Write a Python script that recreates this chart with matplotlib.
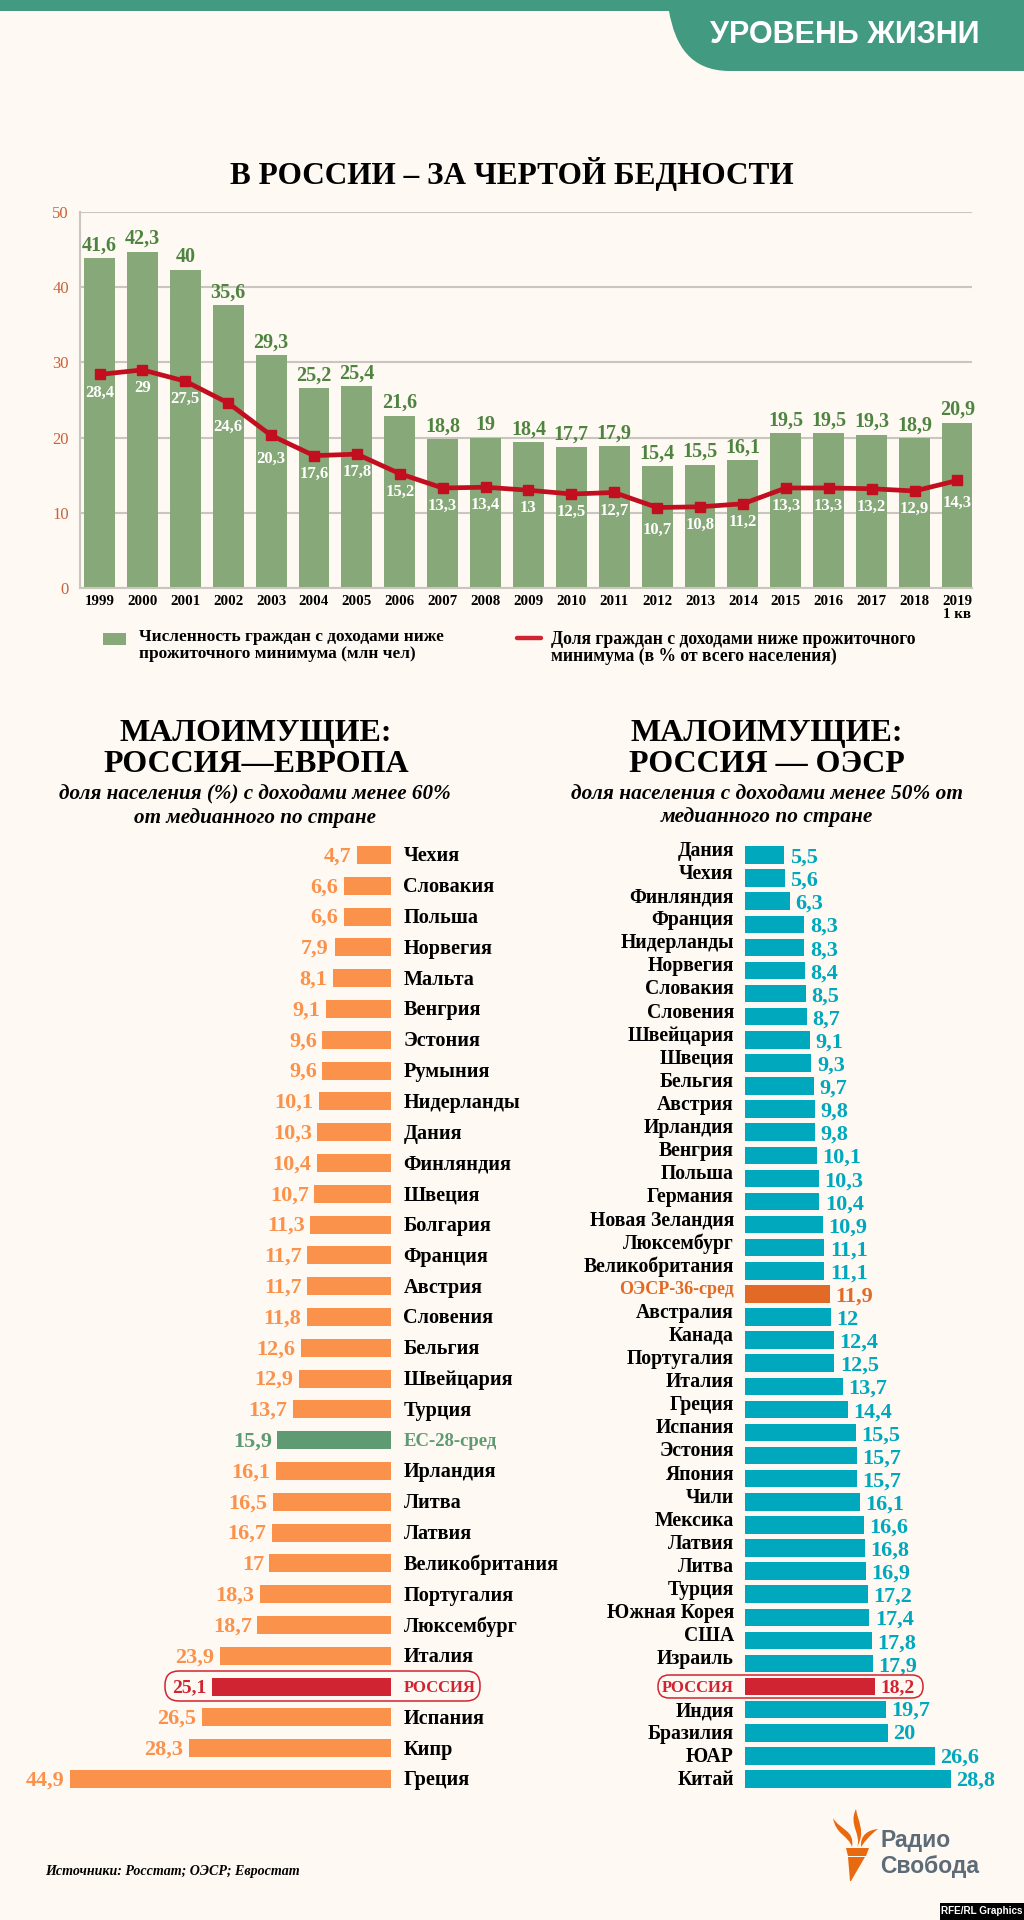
import numpy as np
import matplotlib
matplotlib.use("Agg")
import matplotlib.pyplot as plt
from matplotlib.patches import FancyBboxPatch, PathPatch, Polygon, Rectangle
from matplotlib.path import Path

plt.rcParams['font.family'] = ['Liberation Serif', 'DejaVu Serif']

years = ['1999', '2000', '2001', '2002', '2003', '2004', '2005', '2006', '2007', '2008', '2009',
         '2010', '2011', '2012', '2013', '2014', '2015', '2016', '2017', '2018', '2019\n1 кв']
people_labels = ['41,6', '42,3', '40', '35,6', '29,3', '25,2', '25,4', '21,6', '18,8', '19', '18,4',
                 '17,7', '17,9', '15,4', '15,5', '16,1', '19,5', '19,5', '19,3', '18,9', '20,9']
# bars in the original are drawn a bit taller than their captions
people_bars = [43.9, 44.7, 42.3, 37.6, 31.0, 26.6, 26.8, 22.9, 19.8, 20.0, 19.4,
               18.7, 18.9, 16.2, 16.4, 17.0, 20.6, 20.6, 20.4, 19.9, 22.0]
share = [28.4, 29, 27.5, 24.6, 20.3, 17.6, 17.8, 15.2, 13.3, 13.4, 13,
         12.5, 12.7, 10.7, 10.8, 11.2, 13.3, 13.3, 13.2, 12.9, 14.3]

eu_names = ['Чехия', 'Словакия', 'Польша', 'Норвегия', 'Мальта', 'Венгрия', 'Эстония', 'Румыния',
            'Нидерланды', 'Дания', 'Финляндия', 'Швеция', 'Болгария', 'Франция', 'Австрия',
            'Словения', 'Бельгия', 'Швейцария', 'Турция', 'ЕС-28-сред', 'Ирландия', 'Литва',
            'Латвия', 'Великобритания', 'Португалия', 'Люксембург', 'Италия', 'РОССИЯ', 'Испания',
            'Кипр', 'Греция']
eu_values = [4.7, 6.6, 6.6, 7.9, 8.1, 9.1, 9.6, 9.6, 10.1, 10.3, 10.4, 10.7, 11.3, 11.7, 11.7,
             11.8, 12.6, 12.9, 13.7, 15.9, 16.1, 16.5, 16.7, 17, 18.3, 18.7, 23.9, 25.1, 26.5,
             28.3, 44.9]

oecd_names = ['Дания', 'Чехия', 'Финляндия', 'Франция', 'Нидерланды', 'Норвегия', 'Словакия',
              'Словения', 'Швейцария', 'Швеция', 'Бельгия', 'Австрия', 'Ирландия', 'Венгрия',
              'Польша', 'Германия', 'Новая Зеландия', 'Люксембург', 'Великобритания',
              'ОЭСР-36-сред', 'Австралия', 'Канада', 'Португалия', 'Италия', 'Греция', 'Испания',
              'Эстония', 'Япония', 'Чили', 'Мексика', 'Латвия', 'Литва', 'Турция', 'Южная Корея',
              'США', 'Израиль', 'РОССИЯ', 'Индия', 'Бразилия', 'ЮАР', 'Китай']
oecd_values = [5.5, 5.6, 6.3, 8.3, 8.3, 8.4, 8.5, 8.7, 9.1, 9.3, 9.7, 9.8, 9.8, 10.1, 10.3, 10.4,
               10.9, 11.1, 11.1, 11.9, 12, 12.4, 12.5, 13.7, 14.4, 15.5, 15.7, 15.7, 16.1, 16.6,
               16.8, 16.9, 17.2, 17.4, 17.8, 17.9, 18.2, 19.7, 20, 26.6, 28.8]

BG = '#fff9f3'
TEAL = '#429a80'
BAR_GREEN = '#87a878'
LABEL_GREEN = '#4f8440'
LINE_RED = '#c10f1f'
RED = '#d12433'
ORANGE = '#fb924c'
CYAN = '#00a8bd'
W, H = 1024, 1920


def px_axes(x0, y0, x1, y1):
    # axes placed by pixel box, y counted from the top of the picture
    return fig.add_axes([x0 / W, 1 - y1 / H, (x1 - x0) / W, (y1 - y0) / H])


def fmt(v):
    return f'{v:g}'.replace('.', ',')


fig = plt.figure(figsize=(10.24, 19.2), dpi=100, facecolor=BG)

# overlay for the header, titles, legend and logo, in pixels
deco = px_axes(0, 0, W, H)
deco.set_xlim(0, W)
deco.set_ylim(H, 0)
deco.axis('off')

deco.add_patch(Rectangle((0, 0), W, 11, color=TEAL, lw=0))
tab = Path([(669, 11), (1024, 11), (1024, 71), (730, 71), (690, 71), (675, 45), (669, 11), (669, 11)],
           [Path.MOVETO, Path.LINETO, Path.LINETO, Path.LINETO, Path.CURVE4, Path.CURVE4, Path.CURVE4, Path.CLOSEPOLY])
deco.add_patch(PathPatch(tab, facecolor=TEAL, edgecolor='none'))
deco.text(845, 35, 'УРОВЕНЬ ЖИЗНИ', color='white', fontsize=22, fontweight='bold', ha='center', va='center',
          family='Liberation Sans')

deco.text(512, 174, 'В РОССИИ – ЗА ЧЕРТОЙ БЕДНОСТИ', fontsize=22.5, fontweight='bold', ha='center', va='center')

deco.text(256, 734, 'МАЛОИМУЩИЕ:', fontsize=23, fontweight='bold', ha='center', va='center')
deco.text(256, 765, 'РОССИЯ—ЕВРОПА', fontsize=23, fontweight='bold', ha='center', va='center')
deco.text(767, 734, 'МАЛОИМУЩИЕ:', fontsize=23, fontweight='bold', ha='center', va='center')
deco.text(767, 765, 'РОССИЯ — ОЭСР', fontsize=23, fontweight='bold', ha='center', va='center')

deco.text(255, 794, 'доля населения (%) с доходами менее 60%', fontsize=15.2, fontweight='bold', style='italic', ha='center', va='center')
deco.text(255, 818, 'от медианного по стране', fontsize=15.2, fontweight='bold', style='italic', ha='center', va='center')
deco.text(767, 794, 'доля населения с доходами менее 50% от', fontsize=15.4, fontweight='bold', style='italic', ha='center', va='center')
deco.text(767, 817, 'медианного по стране', fontsize=15.4, fontweight='bold', style='italic', ha='center', va='center')

# legend of the top chart
deco.add_patch(Rectangle((103, 633), 23, 12, color=BAR_GREEN, lw=0))
deco.text(139, 637, 'Численность граждан с доходами ниже', fontsize=12.4, fontweight='bold', va='center')
deco.text(139, 654, 'прожиточного минимума (млн чел)', fontsize=12.4, fontweight='bold', va='center')
deco.plot([517, 541], [638, 638], color=RED, lw=3.2, solid_capstyle='round')
deco.text(551, 640, 'Доля граждан с доходами ниже прожиточного', fontsize=12.7, fontweight='bold', va='center')
deco.text(551, 656, 'минимума (в % от всего населения)', fontsize=12.7, fontweight='bold', va='center')

deco.text(45, 1871, 'Источники: Росстат; ОЭСР; Евростат', fontsize=10.1, fontweight='bold', style='italic', va='center')

# logo
deco.add_patch(Polygon([(846, 1848), (869, 1848), (866, 1856), (848, 1856)], color='#e9690f', lw=0))
deco.add_patch(Polygon([(848, 1857), (865, 1857), (851, 1881), (850, 1881)], color='#e9690f', lw=0))
center_leaf = Path([(856, 1809), (848, 1825), (862, 1835), (857, 1847), (866, 1832), (858, 1822), (856, 1809)],
                   [Path.MOVETO] + [Path.CURVE4] * 6)
left_leaf = Path([(833, 1818), (836, 1835), (848, 1835), (852, 1847), (855, 1830), (840, 1830), (833, 1818)],
                 [Path.MOVETO] + [Path.CURVE4] * 6)
right_leaf = Path([(878, 1829), (868, 1830), (860, 1835), (861, 1847), (866, 1840), (870, 1835), (878, 1829)],
                  [Path.MOVETO] + [Path.CURVE4] * 6)
for leaf in [center_leaf, left_leaf, right_leaf]:
    deco.add_patch(PathPatch(leaf, facecolor='#e9690f', edgecolor='none'))
deco.text(881, 1841, 'Радио', color='#5c6b78', fontsize=16.5, fontweight='bold', va='center', family='Liberation Sans')
deco.text(880, 1867, 'Свобода', color='#5c6b78', fontsize=16.5, fontweight='bold', va='center', family='Liberation Sans')

deco.add_patch(Rectangle((940, 1903), 84, 17, color='black', lw=0))
deco.text(982, 1911.5, 'RFE/RL Graphics', color='white', fontsize=7.2, fontweight='bold', ha='center', va='center',
          family='Liberation Sans')

# top chart
ax = px_axes(80, 212, 972, 588)
ax.patch.set_alpha(0)
x = np.arange(len(years))
ax.set_xlim(-0.455, 20.34)
ax.set_ylim(0, 50)
ax.set_axisbelow(True)
ax.grid(axis='y', color='#c9c6c0', lw=1.5)
ax.bar(x, people_bars, width=0.72, color=BAR_GREEN, zorder=2)
ax.plot(x, share, color=LINE_RED, lw=3.4, marker='s', ms=6.5, zorder=3)
extra_drop = {3: 4, 4: 4, 13: 3, 20: 3}
for i in x:
    ax.annotate(people_labels[i], (i, people_bars[i]), xytext=(0, 2), textcoords='offset points',
                ha='center', va='bottom', color=LABEL_GREEN, fontsize=14.5, fontweight='bold', zorder=4)
    ax.annotate(fmt(share[i]), (i, share[i]), xytext=(0, -13 - extra_drop.get(i, 0)), textcoords='offset points',
                ha='center', va='center', color='white', fontsize=12, fontweight='bold', zorder=4)
for side in ['top', 'right']:
    ax.spines[side].set_visible(False)
for side in ['left', 'bottom']:
    ax.spines[side].set_color('#c9c6c0')
    ax.spines[side].set_linewidth(1.5)
ax.set_yticks([0, 10, 20, 30, 40, 50])
ax.set_xticks(x)
ax.set_xticklabels(years, fontsize=10.8, fontweight='bold', linespacing=1.0)
ax.tick_params(axis='y', length=0, pad=8, labelsize=12, labelcolor='#c8623a')
ax.tick_params(axis='x', length=0, pad=5)

# left chart, bars grow to the left
SCALE_X = 7.15
ax_eu = px_axes(0, 835, 391, 1800)
ax_eu.patch.set_alpha(0)
ax_eu.set_xlim(391 / SCALE_X, 0)
ax_eu.set_ylim((1800 - 855) / 30.8, (835 - 855) / 30.8)
ax_eu.axis('off')
rows_eu = np.arange(len(eu_names))
eu_colors = [RED if n == 'РОССИЯ' else '#5e9a72' if n.startswith('ЕС') else ORANGE for n in eu_names]
ax_eu.barh(rows_eu, eu_values, height=18 / 30.8, color=eu_colors)
for i in rows_eu:
    name = eu_names[i]
    text_color = 'black'
    value_color = ORANGE
    value_size = 16
    name_size = 14.6
    if name == 'РОССИЯ':
        text_color = value_color = RED
        value_size = 14
        name_size = 12
    elif name.startswith('ЕС'):
        text_color = value_color = '#5e9a72'
        name_size = 13.5
    ax_eu.annotate(fmt(eu_values[i]), (eu_values[i], i), xytext=(-4, -1), textcoords='offset points', ha='right',
                   va='center', color=value_color, fontsize=value_size, fontweight='bold', annotation_clip=False)
    ax_eu.annotate(name, (0, i), xytext=(9, -1), textcoords='offset points', ha='left', va='center',
                   color=text_color, fontsize=name_size, fontweight='bold', annotation_clip=False)

# right chart
ax_oecd = px_axes(745, 835, 1024, 1800)
ax_oecd.patch.set_alpha(0)
ax_oecd.set_xlim(0, 279 / 7.14)
ax_oecd.set_ylim((1800 - 855) / 23.1, (835 - 855) / 23.1)
ax_oecd.axis('off')
rows_oecd = np.arange(len(oecd_names))
oecd_colors = [RED if n == 'РОССИЯ' else '#e06a26' if n.startswith('ОЭСР') else CYAN for n in oecd_names]
ax_oecd.barh(rows_oecd, oecd_values, height=17.5 / 23.1, color=oecd_colors)
russia_row = oecd_names.index('РОССИЯ')
for i in rows_oecd:
    name = oecd_names[i]
    text_color = 'black'
    value_color = CYAN
    value_size = 16
    name_size = 14.2
    if name == 'РОССИЯ':
        text_color = value_color = RED
        value_size = 14
        name_size = 12
    elif name.startswith('ОЭСР'):
        text_color = value_color = '#e06a26'
        name_size = 13
    name_shift = 3 if i < russia_row else -1
    value_shift = -2 if i < russia_row else -1
    ax_oecd.annotate(fmt(oecd_values[i]), (oecd_values[i], i), xytext=(4, value_shift), textcoords='offset points',
                     ha='left', va='center', color=value_color, fontsize=value_size, fontweight='bold', annotation_clip=False)
    ax_oecd.annotate(name, (0, i), xytext=(-8, name_shift), textcoords='offset points', ha='right', va='center',
                     color=text_color, fontsize=name_size, fontweight='bold', annotation_clip=False)

# outlines around the Russia rows
deco.add_patch(FancyBboxPatch((165, 1671), 315, 30, boxstyle='round,pad=0,rounding_size=14', facecolor='none',
                              edgecolor=RED, lw=1.1, mutation_aspect=1))
deco.add_patch(FancyBboxPatch((658, 1675), 265, 23, boxstyle='round,pad=0,rounding_size=11', facecolor='none',
                              edgecolor=RED, lw=1.1, mutation_aspect=1))
deco.set_zorder(5)

fig.savefig('out.png', dpi=100, facecolor=BG)
